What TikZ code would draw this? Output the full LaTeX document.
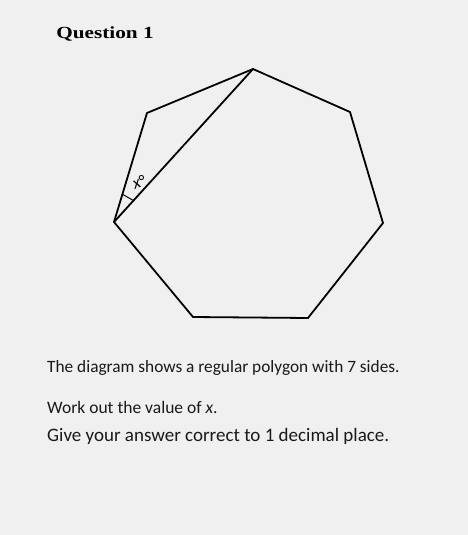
\documentclass[tikz,border=0pt]{standalone}
\usepackage{fontspec}
\setmainfont{Carlito}
\newfontfamily\qfont{Liberation Serif}
\usetikzlibrary{calc}
\begin{document}
\begin{tikzpicture}[x=1pt,y=-1pt,
  edge/.style={line width=1.8pt,line join=round},
  bodytext/.style={anchor=base west,inner sep=0pt,text=black!90}]
\fill[black!6] (0,0) rectangle (468,535);
\useasboundingbox (0,0) rectangle (468,535);
\node[anchor=base west,inner sep=0pt,xscale=1.25] (title) at (56,38) {\qfont\bfseries\fontsize{17}{20}\selectfont Question 1};
\coordinate (T) at (253,69);
\coordinate (UR) at (350,112);
\coordinate (R) at (383,223);
\coordinate (BR) at (308,318);
\coordinate (BL) at (193,317);
\coordinate (L) at (114,222);
\coordinate (UL) at (147,113);
\draw[edge] (T) -- (UR) -- (R) -- (BR) -- (BL) -- (L) -- (UL) -- cycle;
\draw[edge] (L) -- (T);
\draw[line width=1pt] ($(L)!29pt!(UL)$) -- ($(L)!29pt!(T)$);
\node[inner sep=0pt,rotate=20] (xlab) at (139,182) {\fontsize{17}{19}\selectfont\textit{x}°};
\node[bodytext] (l1) at (47,372) {\fontsize{17.3}{20}\selectfont The diagram shows a regular polygon with 7 sides.};
\node[bodytext] (l2) at (47,413) {\fontsize{17.5}{20}\selectfont Work out the value of \textit{x}.};
\node[bodytext] (l3) at (47,441) {\fontsize{19}{22}\selectfont Give your answer correct to 1 decimal place.};
\end{tikzpicture}
\end{document}
